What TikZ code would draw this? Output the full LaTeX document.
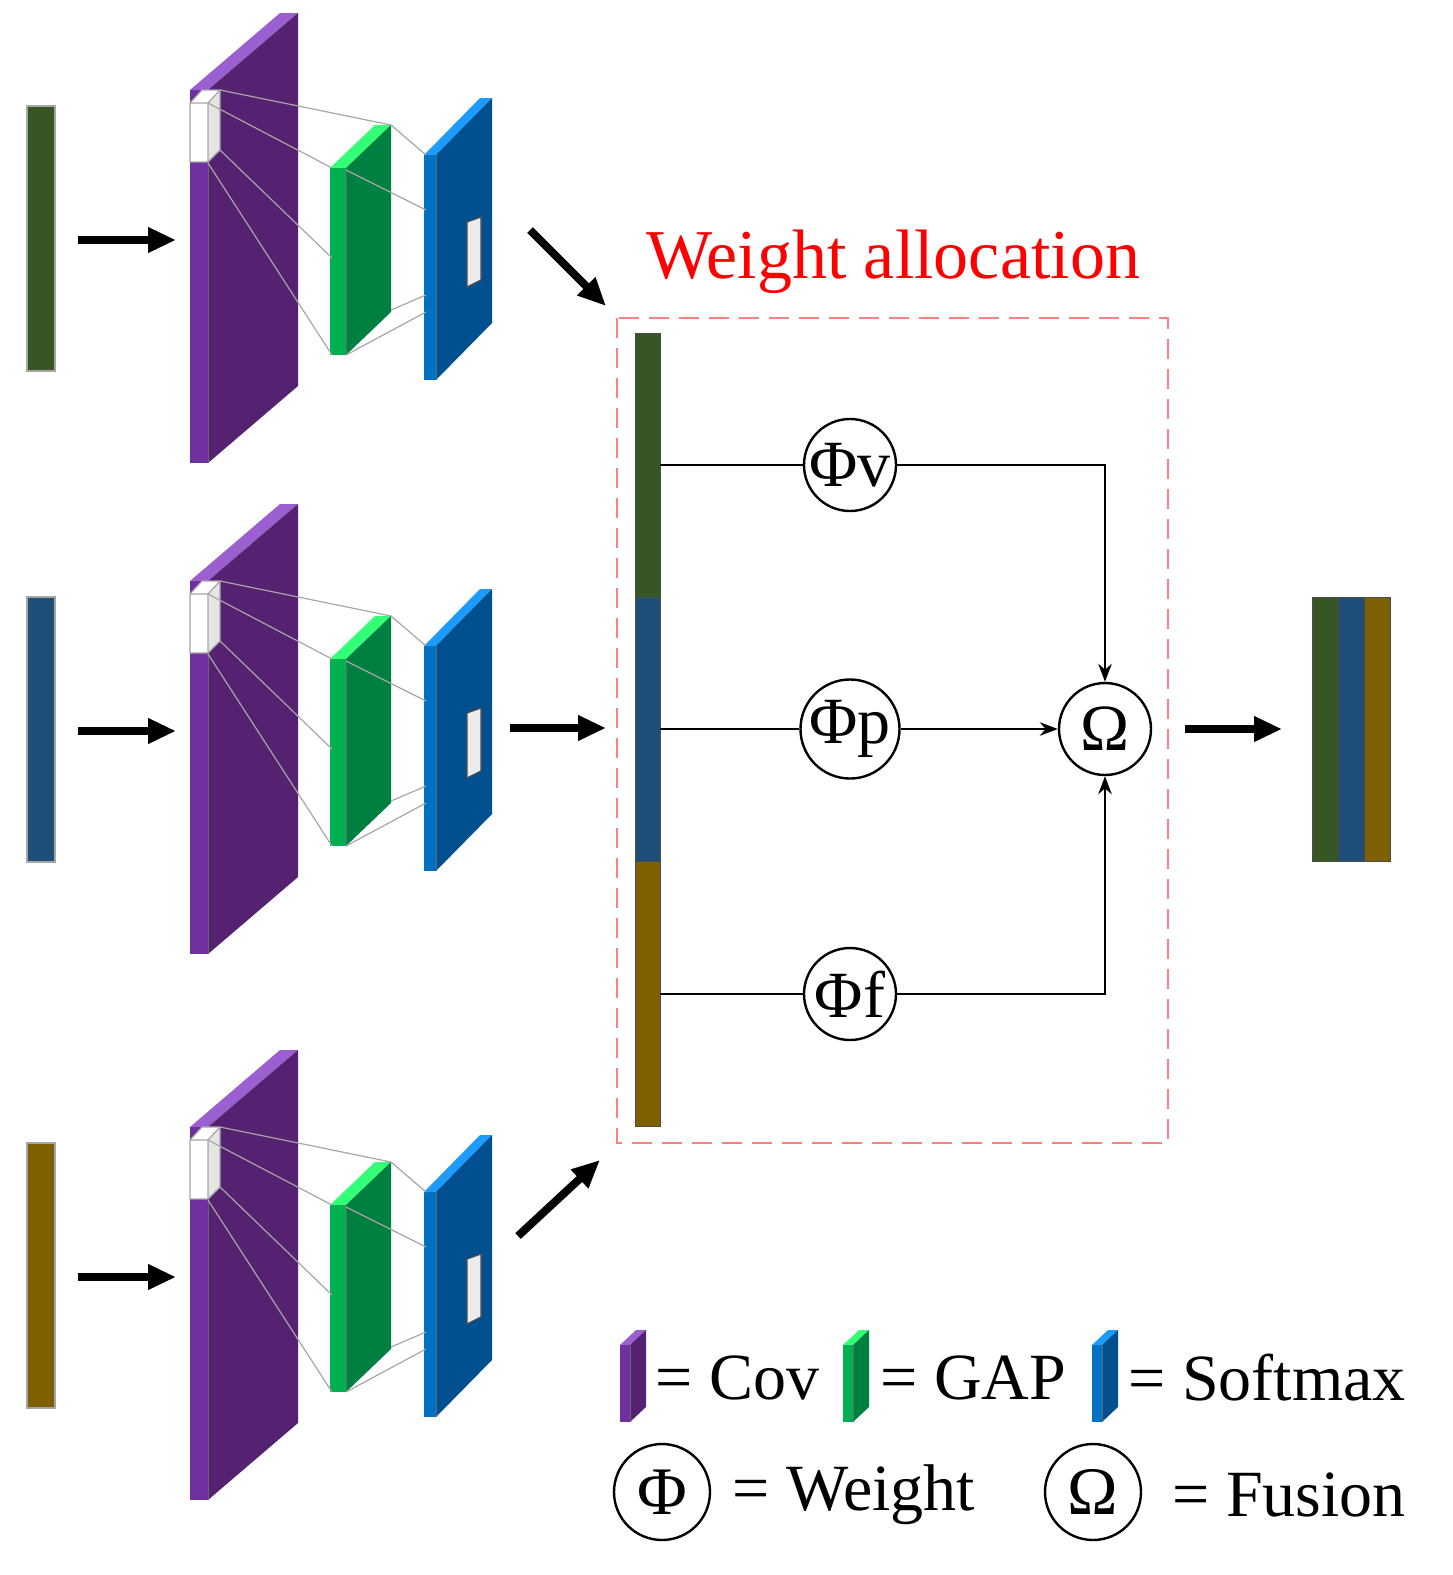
\documentclass[tikz,border=0pt]{standalone}
\usepackage{fontspec}
\setmainfont{Liberation Serif}
\usetikzlibrary{arrows.meta}
\definecolor{pF}{HTML}{7030A0}\definecolor{pS}{HTML}{542270}\definecolor{pT}{HTML}{9B5FD0}
\definecolor{gF}{HTML}{00B050}\definecolor{gS}{HTML}{008040}\definecolor{gT}{HTML}{33FF77}
\definecolor{bF}{HTML}{0070C0}\definecolor{bS}{HTML}{005090}\definecolor{bT}{HTML}{1E9BFF}
\definecolor{cG}{HTML}{375623}\definecolor{cB}{HTML}{1F4E79}\definecolor{cY}{HTML}{7F6000}
\tikzset{
 fat/.style={line width=4pt,-{Triangle[length=14pt,width=12pt]}},
 wl/.style={draw=gray!70,line width=0.6pt},
 circ/.style={circle,draw,line width=1.2pt,minimum size=46pt,inner sep=0pt,font=\fontsize{33}{34}\selectfont},
 conn/.style={line width=1pt},
 txt/.style={font=\fontsize{33}{36}\selectfont,inner sep=0pt},
}
\newcommand{\slab}[9]{% x0 x1 ytop ybot dx dy front side top
 \fill[#9] (#1,#3)--(#2,#3)--(#2+#5,#3-#6)--(#1+#5,#3-#6)--cycle;
 \fill[#8] (#2,#3)--(#2+#5,#3-#6)--(#2+#5,#4-#6)--(#2,#4)--cycle;
 \fill[#7] (#1,#3) rectangle (#2,#4);
 \draw[black!60,line width=0.4pt] (#2,#3)--(#2,#4);
}
\newcommand{\cnnunit}[2]{% yshift, bar colour
\begin{scope}[shift={(0,#1)}]
 \fill[#2] (27,106) rectangle (55,371);
 \draw[wl] (27,106) rectangle (55,371);
 \coordinate (ia) at (78,240); \coordinate (ib) at (176,240);
 \draw[fat] (ia)--(ib);
 \slab{190}{208}{90}{463}{90}{77}{pF}{pS}{pT}
 \fill[white] (190,103) rectangle (208,162);
 \fill[white] (190,103)--(208,103)--(220,90)--(202,90)--cycle;
 \fill[gray!20] (208,103)--(220,90)--(220,150)--(208,162)--cycle;
 \draw[gray!70,line width=0.6pt] (190,103) rectangle (208,162) (190,103)--(202,90)--(220,90)--(208,103) (220,90)--(220,150)--(208,162);
 \slab{330}{346}{168}{355}{45}{43}{gF}{gS}{gT}
 \slab{424}{436}{155}{380}{56}{57}{bF}{bS}{bT}
 \filldraw[fill=gray!15,draw=black!70,line width=0.6pt] (467,222)--(481,217)--(481,280)--(467,287)--cycle;
 \draw[wl] (220,90)--(391,125) (208,103)--(332,168) (220,150)--(332,258) (208,163)--(332,355);
 \draw[wl] (391,125)--(426,155) (346,170)--(426,210) (391,310)--(426,295) (346,355)--(426,312);
\end{scope}}
\begin{document}
\begin{tikzpicture}[x=0.5pt,y=-0.5pt]
\useasboundingbox (0,0) rectangle (1452,1575);
\cnnunit{0}{cG}
\cnnunit{491}{cB}
\cnnunit{1037}{cY}
\coordinate (a1) at (530,230); \coordinate (a1e) at (606,306);
\coordinate (a2) at (510,728); \coordinate (a2e) at (606,728);
\coordinate (a3) at (518,1236); \coordinate (a3e) at (600,1160);
\draw[fat] (a1)--(a1e); \draw[fat] (a2)--(a2e); \draw[fat] (a3)--(a3e);
\node[txt,text=red,font=\fontsize{35}{38}\selectfont] (title) at (893,262) {Weight allocation};
\draw[dashed,draw=red!50,line width=1.2pt,dash pattern=on 10pt off 5pt] (617,318) rectangle (1168,1143);
\fill[cG] (635,333) rectangle (660,597);
\fill[cB] (635,597) rectangle (660,861);
\fill[cY] (635,861) rectangle (660,1126);
\draw[black!70,line width=0.5pt] (635,333) rectangle (660,1126) (635,597)--(660,597) (635,861)--(660,861);
\coordinate (sv) at (660,465); \coordinate (sp) at (660,729); \coordinate (sf) at (660,994);
\node[circ] (pv) at (850,465) {Φv};
\node[circ] (pp) at (850,729) {Φp};
\node[circ] (pf) at (850,994) {Φf};
\node[circ] (om) at (1105,729) {Ω};
\coordinate (cv) at (1105,465); \coordinate (cf) at (1105,994);
\draw[conn] (sv)--(pv); \draw[conn,-{Stealth[length=9pt]}] (pv)--(cv)--(om);
\draw[conn] (sp)--(pp); \draw[conn,-{Stealth[length=9pt]}] (pp)--(om);
\draw[conn] (sf)--(pf); \draw[conn,-{Stealth[length=9pt]}] (pf)--(cf)--(om);
\coordinate (oa) at (1185,729); \coordinate (ob) at (1282,729);
\draw[fat] (oa)--(ob);
\fill[cG] (1312,597) rectangle (1338,861);
\fill[cB] (1338,597) rectangle (1364,861);
\fill[cY] (1364,597) rectangle (1390,861);
\draw[black!70,line width=0.5pt] (1312,597) rectangle (1390,861) (1338,597)--(1338,861) (1364,597)--(1364,861);
\slab{620}{630}{1345}{1422}{16}{15}{pF}{pS}{pT}
\node[txt,anchor=west] (lc) at (655,1378) {= Cov};
\slab{843}{853}{1345}{1422}{16}{15}{gF}{gS}{gT}
\node[txt,anchor=west] (lg) at (880,1378) {= GAP};
\slab{1092}{1102}{1345}{1422}{16}{15}{bF}{bS}{bT}
\node[txt,anchor=west] (ls) at (1128,1378) {= Softmax};
\node[circ,minimum size=48pt,font=\fontsize{34}{36}\selectfont] (lphi) at (662,1492) {Φ};
\node[txt,anchor=west] (lw) at (732,1495) {= Weight};
\node[circ,minimum size=48pt,font=\fontsize{34}{36}\selectfont] (lom) at (1093,1492) {Ω};
\node[txt,anchor=west] (lf) at (1172,1495) {= Fusion};
\end{tikzpicture}
\end{document}
